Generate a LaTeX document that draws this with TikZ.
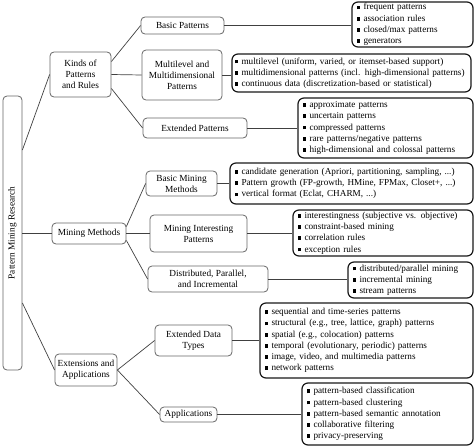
\documentclass[tikz,border=0pt]{standalone}
\usepackage{fontspec}
\setmainfont{Liberation Serif}
\newcommand\bsq{\rule[0.6pt]{3.8pt}{3.8pt}\hspace{3.2pt}}
\tikzset{
  cat/.style={draw=black!60, rounded corners=4pt, line width=0.8pt, align=center,
    font=\fontsize{9.3}{11}\selectfont, inner sep=1pt},
  lst/.style={draw=black!90, rounded corners=6pt, line width=1.2pt, align=left,
    font=\fontsize{9.2}{11.2}\selectfont, inner xsep=4.5pt, inner ysep=1pt},
  conn/.style={draw=black!75, line width=0.7pt},
}
\begin{document}
\begin{tikzpicture}[x=1pt,y=-1pt]
\useasboundingbox (0,0) rectangle (474,447);
% root
\node[cat, rotate=90, minimum width=274pt, minimum height=19pt] (root) at (12.5,233) {Pattern Mining Research};
% level 1
\node[cat, minimum width=61pt, minimum height=45pt] (kinds) at (80.5,74.5) {Kinds of\\Patterns\\and Rules};
\node[cat, minimum width=74pt, minimum height=21pt] (mm) at (89,233.5) {Mining Methods};
\node[cat, minimum width=62pt, minimum height=32pt] (ext) at (86,370) {Extensions and\\Applications};
% level 2
\node[cat, minimum width=83pt, minimum height=17pt] (bp) at (182.5,25.5) {Basic Patterns};
\node[cat, minimum width=80pt, minimum height=50pt] (ml) at (182,75) {Multilevel and\\Multidimensional\\Patterns};
\node[cat, minimum width=104pt, minimum height=20pt] (ep) at (195,128) {Extended Patterns};
\node[cat, minimum width=71pt, minimum height=25pt] (bm) at (181.5,183.5) {Basic Mining\\Methods};
\node[cat, minimum width=97pt, minimum height=37pt] (mi) at (198.5,233.5) {Mining Interesting\\Patterns};
\node[cat, minimum width=120pt, minimum height=26pt] (dp) at (208,279) {Distributed, Parallel,\\and Incremental};
\node[cat, minimum width=77pt, minimum height=31pt] (ed) at (193.5,340.5) {Extended Data\\Types};
\node[cat, minimum width=57pt, minimum height=15pt] (ap) at (188.5,414.5) {Applications};
% lists
\node[lst, minimum width=121pt, minimum height=45pt, text width=112pt] (bpL) at (412.5,24.5)
  {\bsq frequent patterns\\\bsq association rules\\\bsq closed/max patterns\\\bsq generators};
\node[lst, inner xsep=2.5pt, minimum width=239pt, minimum height=38pt, text width=234pt] (mlL) at (351.5,73)
  {\bsq multilevel (uniform, varied, or itemset-based support)\\\bsq multidimensional patterns (incl. high-dimensional patterns)\\\bsq continuous data (discretization-based or statistical)};
\node[lst, minimum width=175pt, minimum height=60pt, text width=166pt] (epL) at (385.5,128)
  {\bsq approximate patterns\\\bsq uncertain patterns\\\bsq compressed patterns\\\bsq rare patterns/negative patterns\\\bsq high-dimensional and colossal patterns};
\node[lst, minimum width=243pt, minimum height=41pt, text width=234pt] (bmL) at (351.5,183.5)
  {\bsq candidate generation (Apriori, partitioning, sampling, ...)\\\bsq Pattern growth (FP-growth, HMine, FPMax, Closet+, ...)\\\bsq vertical format (Eclat, CHARM, ...)};
\node[lst, minimum width=180pt, minimum height=46pt, text width=171pt] (miL) at (383,233)
  {\bsq interestingness (subjective vs. objective)\\\bsq constraint-based mining\\\bsq correlation rules\\\bsq exception rules};
\node[lst, minimum width=125pt, minimum height=36pt, text width=116pt] (dpL) at (410.5,280)
  {\bsq distributed/parallel mining\\\bsq incremental mining\\\bsq stream patterns};
\node[lst, minimum width=213pt, minimum height=75pt, text width=204pt] (edL) at (366.5,340.5)
  {\bsq sequential and time-series patterns\\\bsq structural (e.g., tree, lattice, graph) patterns\\\bsq spatial (e.g., colocation) patterns\\\bsq temporal (evolutionary, periodic) patterns\\\bsq image, video, and multimedia patterns\\\bsq network patterns};
\node[lst, minimum width=171pt, minimum height=62pt, text width=162pt] (apL) at (387.5,414)
  {\bsq pattern-based classification\\\bsq pattern-based clustering\\\bsq pattern-based semantic annotation\\\bsq collaborative filtering\\\bsq privacy-preserving};
% connectors root
\draw[conn] (root.south |- 0,150) -- (kinds.west);
\draw[conn] (root.south |- mm.west) -- (mm.west);
\draw[conn] (root.south |- 0,303) -- (ext.west);
% kinds
\draw[conn] ([yshift=13pt]kinds.east) -- (bp.west);
\draw[conn] (kinds.east) -- (ml.west);
\draw[conn] ([yshift=-14pt]kinds.east) -- (ep.west);
% mm
\draw[conn] ([yshift=7pt]mm.east) -- (bm.west);
\draw[conn] (mm.east) -- (mi.west);
\draw[conn] ([yshift=-7pt]mm.east) -- (dp.west);
% ext
\draw[conn] (ext.east) -- (ed.west);
\draw[conn] (ext.east) -- (ap.west);
% to lists
\draw[conn] (bp.east) -- (bpL.west |- bp.east);
\draw[conn] (ml.east) -- (mlL.west |- ml.east);
\draw[conn] (ep.east) -- (epL.west |- ep.east);
\draw[conn] (bm.east) -- (bmL.west |- bm.east);
\draw[conn] (mi.east) -- (miL.west |- mi.east);
\draw[conn] (dp.east) -- (dpL.west |- dp.east);
\draw[conn] (ed.east) -- (edL.west |- ed.east);
\draw[conn] (ap.east) -- (apL.west |- ap.east);
\end{tikzpicture}
\end{document}
